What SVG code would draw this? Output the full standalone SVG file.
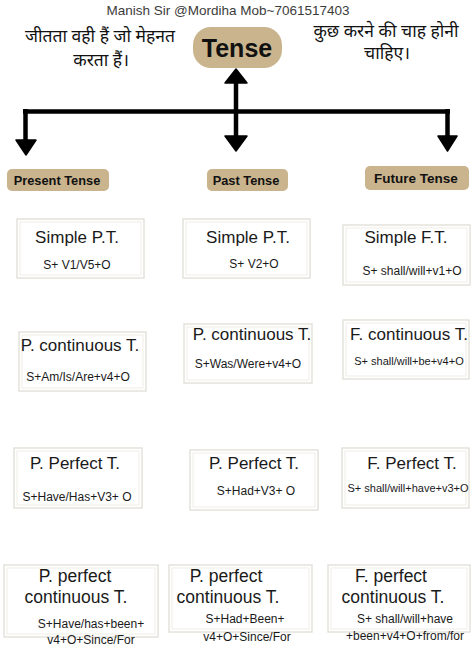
<svg xmlns="http://www.w3.org/2000/svg" width="474" height="669" viewBox="0 0 474 669">
<style>
.hdr{font-family:"Liberation Sans",Arial,sans-serif;font-size:13.5px;fill:#3c3c3c;text-anchor:middle}
.hi{font-family:"Noto Sans Devanagari","Noto Sans","Lohit Devanagari",sans-serif;font-size:17.5px;fill:#111;text-anchor:middle}
.pill{fill:#c9b48d}
.main{font-family:"Liberation Sans",Arial,sans-serif;font-weight:bold;font-size:25px;fill:#111;text-anchor:middle}
.lbl{font-family:"Liberation Sans",Arial,sans-serif;font-weight:bold;font-size:12.8px;fill:#111;text-anchor:middle}
.box{fill:#fff;stroke:#e4e2da;stroke-width:1.5}
.inner{fill:none;stroke:#efede7;stroke-width:1}
.t{font-family:"Liberation Sans",Arial,sans-serif;font-size:17px;fill:#1a1a1a;text-anchor:middle}
.t2{font-family:"Liberation Sans",Arial,sans-serif;font-size:17.5px;fill:#1a1a1a;text-anchor:middle}
.f{font-family:"Liberation Sans",Arial,sans-serif;font-size:12px;fill:#1a1a1a;text-anchor:middle}
.fs{font-family:"Liberation Sans",Arial,sans-serif;font-size:11px;fill:#1a1a1a;text-anchor:middle}
.ln{stroke:#000;stroke-width:4.5;fill:none}
.ah{fill:#000;stroke:#000;stroke-width:1.5;stroke-linejoin:round}
</style>
<rect width="474" height="669" fill="#fff"/>
<text class="hdr" x="228" y="15">Manish Sir @Mordiha Mob~7061517403</text>
<g id="quote-left">
<text class="hi" x="100" y="42">जीतता वही हैं जो मेहनत</text>
<text class="hi" x="101" y="66">करता हैं।</text>
</g>
<g id="quote-right">
<text class="hi" x="386" y="37">कुछ करने की चाह होनी</text>
<text class="hi" x="387" y="59">चाहिए।</text>
</g>
<g id="connectors">
<line class="ln" x1="236" y1="80" x2="236" y2="137"/>
<line class="ln" x1="23" y1="111.5" x2="450" y2="111.5"/>
<line class="ln" x1="25.5" y1="109" x2="25.5" y2="142"/>
<line class="ln" x1="447.5" y1="109" x2="447.5" y2="138"/>
<polygon class="ah" points="225,83 236,69 247,83"/>
<polygon class="ah" points="225,136 236,151 247,136"/>
<polygon class="ah" points="16,140 26,155 36,140"/>
<polygon class="ah" points="438,136 447.5,151 457,136"/>
</g>
<g id="tense">
<rect class="pill" x="193" y="27" width="89" height="41" rx="18"/>
<text class="main" x="237" y="57">Tense</text>
</g>
<g id="present-tense">
<rect class="pill" x="7" y="169" width="102" height="22" rx="5"/>
<text class="lbl" x="57" y="185">Present Tense</text>
</g>
<g id="past-tense">
<rect class="pill" x="207" y="169" width="81" height="22" rx="5"/>
<text class="lbl" x="246" y="185">Past Tense</text>
</g>
<g id="future-tense">
<rect class="pill" x="365" y="166" width="104" height="24" rx="5"/>
<text class="lbl" x="416" y="183" style="font-size:13.5px">Future Tense</text>
</g>

<g id="simple-present">
<rect class="box" x="17" y="219" width="127" height="59"/>
<rect class="inner" x="20" y="222" width="121" height="53"/>
<text class="t" x="77" y="243">Simple P.T.</text>
<text class="f" x="77" y="269">S+ V1/V5+O</text>
</g>
<g id="simple-past">
<rect class="box" x="183" y="219" width="127" height="59"/>
<rect class="inner" x="186" y="222" width="121" height="53"/>
<text class="t" x="248" y="243">Simple P.T.</text>
<text class="f" x="254" y="268">S+ V2+O</text>
</g>
<g id="simple-future">
<rect class="box" x="343" y="225" width="127" height="60"/>
<rect class="inner" x="346" y="228" width="121" height="54"/>
<text class="t" x="406" y="243">Simple F.T.</text>
<text class="f" x="412" y="275">S+ shall/will+v1+O</text>
</g>

<g id="present-continuous">
<rect class="box" x="19" y="332" width="127" height="59"/>
<rect class="inner" x="22" y="335" width="121" height="53"/>
<text class="t" x="80" y="351">P. continuous T.</text>
<text class="f" x="78" y="381">S+Am/Is/Are+v4+O</text>
</g>
<g id="past-continuous">
<rect class="box" x="184" y="324" width="128" height="59"/>
<rect class="inner" x="187" y="327" width="122" height="53"/>
<text class="t" x="252" y="340">P. continuous T.</text>
<text class="f" x="248" y="368">S+Was/Were+v4+O</text>
</g>
<g id="future-continuous">
<rect class="box" x="343" y="320" width="126" height="59"/>
<rect class="inner" x="346" y="323" width="120" height="53"/>
<text class="t" x="409" y="340">F. continuous T.</text>
<text class="fs" x="409" y="365">S+ shall/will+be+v4+O</text>
</g>

<g id="present-perfect">
<rect class="box" x="14" y="448" width="128" height="60"/>
<rect class="inner" x="17" y="451" width="122" height="54"/>
<text class="t" x="75" y="469">P. Perfect T.</text>
<text class="f" x="77" y="501">S+Have/Has+V3+ O</text>
</g>
<g id="past-perfect">
<rect class="box" x="190" y="450" width="128" height="60"/>
<rect class="inner" x="193" y="453" width="122" height="54"/>
<text class="t" x="254" y="469">P. Perfect T.</text>
<text class="f" x="256" y="495">S+Had+V3+ O</text>
</g>
<g id="future-perfect">
<rect class="box" x="342" y="448" width="127" height="60"/>
<rect class="inner" x="345" y="451" width="121" height="54"/>
<text class="t" x="412" y="469">F. Perfect T.</text>
<text class="fs" x="408" y="492">S+ shall/will+have+v3+O</text>
</g>

<g id="present-perfect-continuous">
<rect class="box" x="4" y="565" width="154" height="72"/>
<rect class="inner" x="7" y="568" width="148" height="66"/>
<text class="t2" x="75" y="582">P. perfect</text>
<text class="t2" x="76" y="603">continuous T.</text>
<text class="f" x="91" y="628">S+Have/has+been+</text>
<text class="f" x="91" y="644">v4+O+Since/For</text>
</g>
<g id="past-perfect-continuous">
<rect class="box" x="169" y="565" width="143" height="67"/>
<rect class="inner" x="172" y="568" width="137" height="61"/>
<text class="t2" x="226" y="582">P. perfect</text>
<text class="t2" x="228" y="603">continuous T.</text>
<text class="f" x="245" y="623">S+Had+Been+</text>
<text class="f" x="247" y="641">v4+O+Since/For</text>
</g>
<g id="future-perfect-continuous">
<rect class="box" x="328" y="565" width="142" height="67"/>
<rect class="inner" x="331" y="568" width="136" height="61"/>
<text class="t2" x="391" y="582">F. perfect</text>
<text class="t2" x="393" y="603">continuous T.</text>
<text class="f" x="405" y="623">S+ shall/will+have</text>
<text class="f" x="405" y="640">+been+v4+O+from/for</text>
</g>
</svg>
